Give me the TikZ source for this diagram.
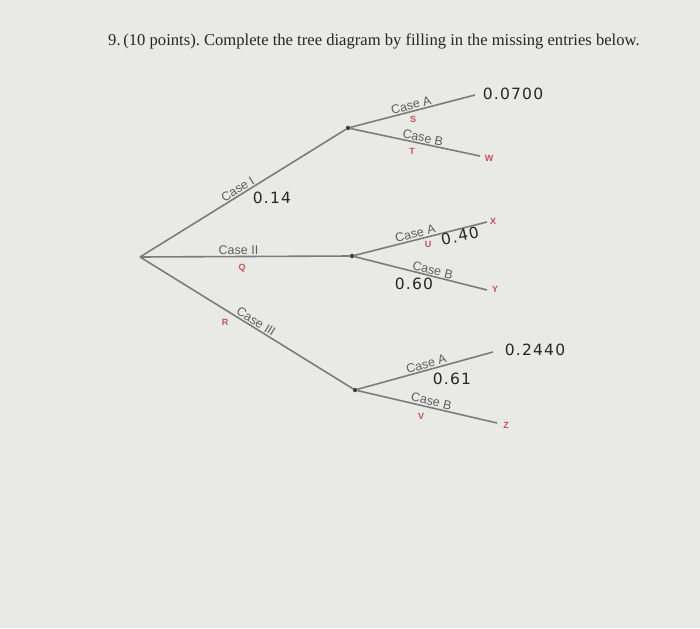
\documentclass[tikz,border=0pt]{standalone}
\usepackage{fontspec}
\setmainfont{Liberation Serif}
\newfontfamily\casefont{Liberation Sans}
\newfontfamily\numfont[LetterSpace=8]{DejaVu Sans}
\definecolor{bgc}{HTML}{E9E9E6}
\definecolor{linec}{HTML}{7C7C7C}
\definecolor{casec}{HTML}{5E5E5E}
\definecolor{redc}{HTML}{C4505C}
\tikzset{
  branch/.style={draw=linec, line width=1.6pt},
  dotnode/.style={circle, fill=black!75, inner sep=0pt, minimum size=4.5pt},
  caselbl/.style={font=\casefont\fontsize{12.5}{13}\selectfont, text=casec, sloped, above, inner sep=1pt},
  redlbl/.style={font=\casefont\bfseries\fontsize{9}{10}\selectfont, text=redc, inner sep=0.5pt},
  numlbl/.style={font=\numfont\fontsize{15.5}{17}\selectfont, text=black!85, inner sep=0.5pt},
}
\begin{document}
\frenchspacing
\begin{tikzpicture}[x=1pt,y=-1pt]
\fill[bgc] (0,0) rectangle (700,628);
\useasboundingbox (0,0) rectangle (700,628);
\node[anchor=base west, inner sep=0pt, font=\fontsize{16.6}{19}\selectfont, text=black!85] (title) at (108,46)
  {9.\,(10 points). Complete the tree diagram by filling in the missing entries below.};
% nodes
\coordinate (root) at (140,257);
\node[dotnode] (n1) at (348,128) {};
\node[dotnode] (n2) at (352,256) {};
\node[dotnode] (n3) at (355,390) {};
\coordinate (e1a) at (475,95);
\coordinate (e1b) at (480,156);
\coordinate (e2a) at (487,222);
\coordinate (e2b) at (487,290);
\coordinate (e3a) at (493,352);
\coordinate (e3b) at (497,423);
% first level
\draw[branch] (root) -- node[caselbl, pos=0.49] (lI) {Case I} (n1);
\draw[branch] (root) -- node[caselbl, pos=0.47] (lII) {Case II} (n2);
\draw[branch] (root) -- node[caselbl, pos=0.53] (lIII) {Case III} (n3);
% second level
\draw[branch] (n1) -- node[caselbl, pos=0.5] (l1a) {Case A} (e1a);
\draw[branch] (n1) -- node[caselbl, pos=0.55] (l1b) {Case B} (e1b);
\draw[branch] (n2) -- node[caselbl, pos=0.47] (l2a) {Case A} (e2a);
\draw[branch] (n2) -- node[caselbl, pos=0.58] (l2b) {Case B} (e2b);
\draw[branch] (n3) -- node[caselbl, pos=0.52] (l3a) {Case A} (e3a);
\draw[branch] (n3) -- node[caselbl, pos=0.52] (l3b) {Case B} (e3b);
% red letters
\node[redlbl] (Q) at (242,268) {Q};
\node[redlbl] (R) at (225,322) {R};
\node[redlbl] (S) at (413,119) {S};
\node[redlbl] (T) at (412,151) {T};
\node[redlbl] (U) at (428,244) {U};
\node[redlbl] (V) at (421,416) {V};
\node[redlbl] (W) at (489,158) {W};
\node[redlbl] (X) at (493,221) {X};
\node[redlbl] (Y) at (495,289) {Y};
\node[redlbl] (Z) at (506,425) {Z};
% numbers
\node[numlbl] (p1) at (513,94) {0.0700};
\node[numlbl] (p2) at (272,198) {0.14};
\node[numlbl, rotate=12] (p3) at (460,236) {0.40};
\node[numlbl] (p4) at (414,284) {0.60};
\node[numlbl] (p5) at (452,379) {0.61};
\node[numlbl] (p6) at (535,350) {0.2440};
\end{tikzpicture}
\end{document}
